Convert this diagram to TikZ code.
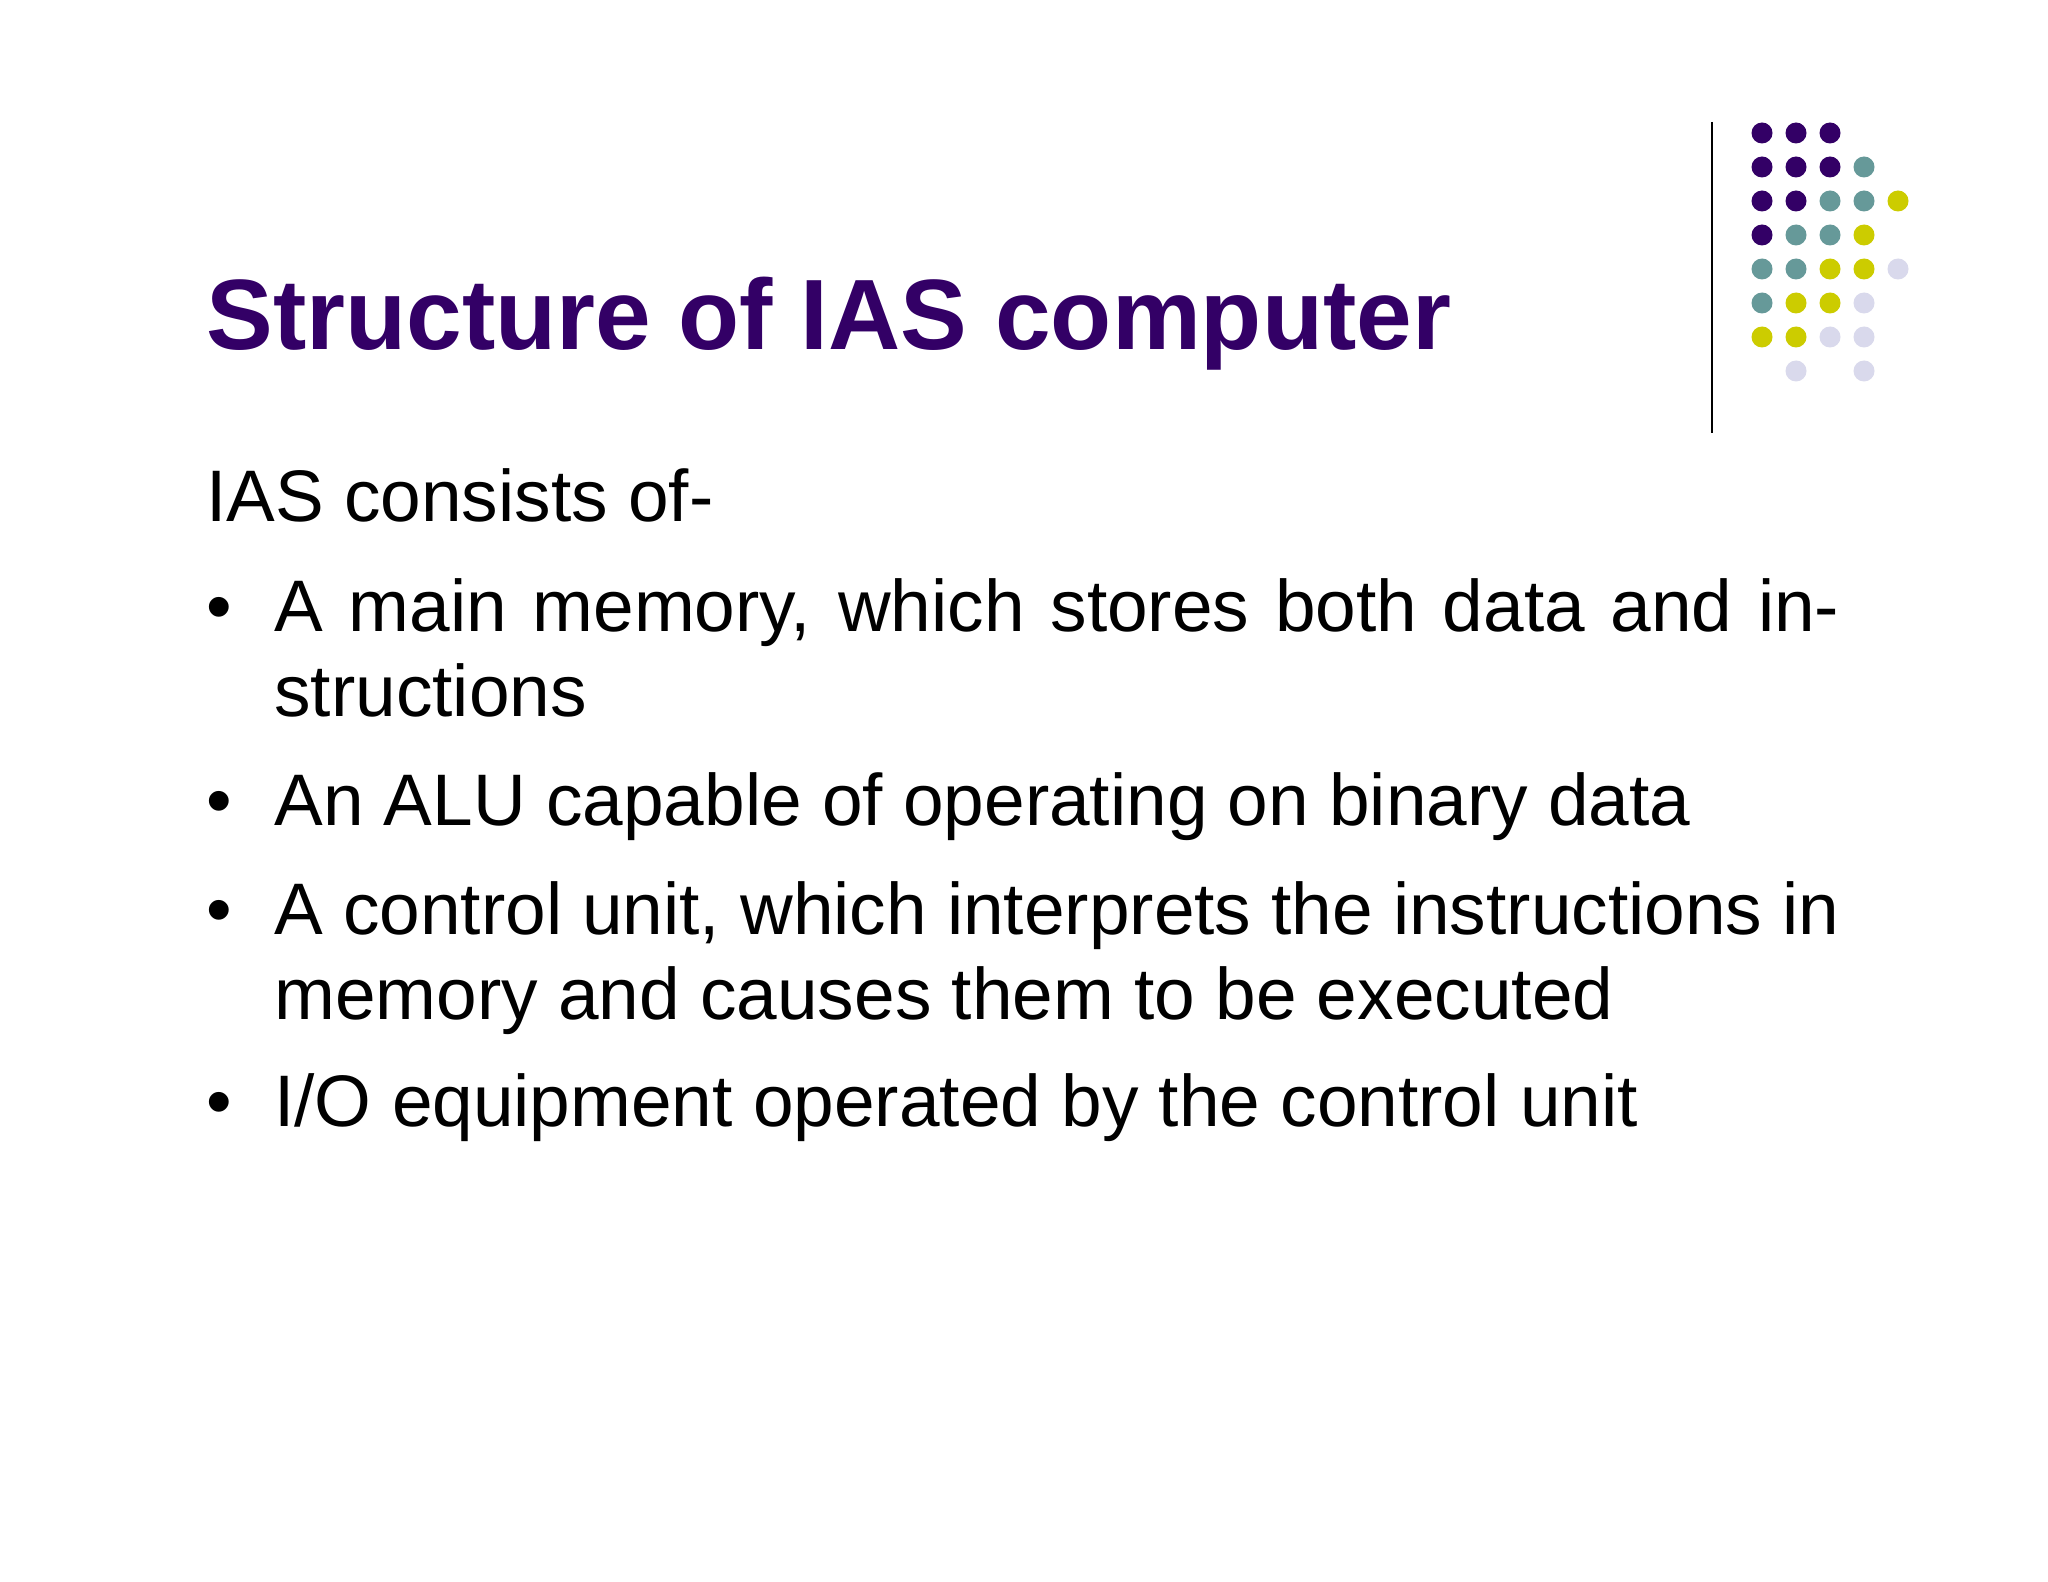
\documentclass[tikz,border=0pt]{standalone}
\usepackage{fontspec}
\setmainfont{Liberation Sans}
\definecolor{dpurple}{HTML}{330066}
\definecolor{P}{HTML}{330066}
\definecolor{T}{HTML}{669999}
\definecolor{O}{HTML}{CCCC00}
\definecolor{L}{HTML}{D9D9EC}
\begin{document}
\begin{tikzpicture}[x=0.5pt,y=-0.5pt,
  dot/.style={circle,inner sep=0pt,minimum size=10.5pt},
  txt/.style={anchor=base west,inner sep=0pt,font=\fontsize{36.5}{42.5}\selectfont}]
\useasboundingbox (0,0) rectangle (2048,1582);
\fill[white] (0,0) rectangle (2048,1582);
\draw[line width=1.2pt] (1712,122) -- (1712,433);
\def\NN{N}
\foreach \r/\cols in {0/{P,P,P},1/{P,P,P,T},2/{P,P,T,T,O},3/{P,T,T,O},4/{T,T,O,O,L},5/{T,O,O,L},6/{O,O,L,L},7/{N,L,N,L}}{
  \foreach \c [count=\i from 0] in \cols {
    \ifx\c\NN\else
    \node[dot,fill=\c] (d\r\i) at ({1762+34*\i},{133+34*\r}) {};
    \fi
  }
}
\node[anchor=base west,inner sep=0pt,text=dpurple,font=\fontsize{50}{60}\selectfont\bfseries] (title) at (206,350) {Structure of IAS computer};
\node[txt] (intro) at (206,522) {IAS consists of-};
\foreach \y/\n in {631/b1,825/b3,934/b4,1126/b6}{
  \node[txt] (\n) at (206,\y) {\textbullet};
}
\node[txt] (t1) at (274,631) {\parbox[t]{782.5pt}{\fontsize{36.5}{42.5}\selectfont\parindent=0pt A main memory, which stores both data and instructions}};
\node[txt] (t3) at (274,825) {An ALU capable of operating on binary data};
\node[txt] (t4) at (274,934) {\parbox[t]{782.5pt}{\fontsize{36.5}{42.5}\selectfont\parindent=0pt A control unit, which interprets the instructions in memory and causes them to be executed}};
\node[txt] (t6) at (274,1126) {I/O equipment operated by the control unit};
\end{tikzpicture}
\end{document}
